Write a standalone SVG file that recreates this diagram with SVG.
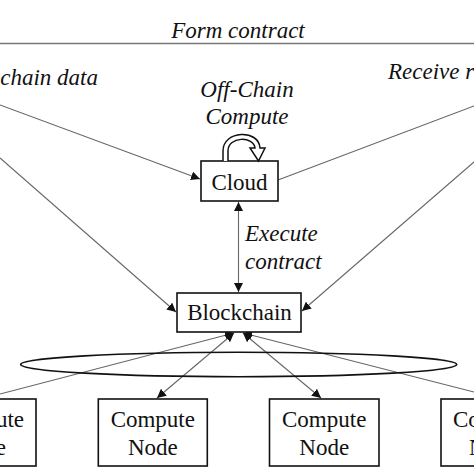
<svg xmlns="http://www.w3.org/2000/svg" width="474" height="474" viewBox="0 0 474 474" font-family="Liberation Serif, DejaVu Serif, serif">
<style>
.box{fill:#fff;stroke:#111;stroke-width:1.6}
.ln{stroke:#666;stroke-width:1.1;fill:none}
text{font-family:"Liberation Serif","DejaVu Serif",serif;font-size:23px;fill:#111}
.i{font-style:italic}
</style>
<defs>
<marker id="ah" viewBox="0 0 10 10" refX="10" refY="5" markerWidth="9" markerHeight="9" markerUnits="userSpaceOnUse" orient="auto-start-reverse">
<path d="M0,0 L10,5 L0,10 z" fill="#111"/>
</marker>
</defs>
<rect width="474" height="474" fill="#fff"/>
<g id="labels">
<text class="i" x="238" y="38" text-anchor="middle">Form contract</text>
<line x1="0" y1="43.5" x2="474" y2="43.5" stroke="#777" stroke-width="1.3"/>
<text class="i" x="98" y="85" text-anchor="end">chain data</text>
<text class="i" x="388" y="79">Receive r</text>
<text class="i" x="247" y="97" text-anchor="middle">Off-Chain</text>
<text class="i" x="247" y="124" text-anchor="middle">Compute</text>
<text class="i" x="245" y="241">Execute</text>
<text class="i" x="245" y="269">contract</text>
</g>
<g id="connectors">
<line class="ln" x1="0" y1="105" x2="200" y2="179" marker-end="url(#ah)"/>
<line class="ln" x1="278" y1="180" x2="474" y2="106"/>
<line class="ln" x1="0" y1="158" x2="176" y2="312" marker-end="url(#ah)"/>
<line class="ln" x1="474" y1="162" x2="302" y2="311" marker-end="url(#ah)"/>
<line class="ln" x1="238.5" y1="202" x2="238.5" y2="292" marker-start="url(#ah)" marker-end="url(#ah)"/>
<line class="ln" x1="0" y1="394" x2="234" y2="333" marker-end="url(#ah)"/>
<line class="ln" x1="474" y1="392" x2="243" y2="333" marker-end="url(#ah)"/>
<line class="ln" x1="234" y1="333" x2="157" y2="398" marker-start="url(#ah)" marker-end="url(#ah)"/>
<line class="ln" x1="243" y1="333" x2="321" y2="398" marker-start="url(#ah)" marker-end="url(#ah)"/>
<ellipse cx="238.7" cy="364.5" rx="218" ry="12.2" fill="none" stroke="#111" stroke-width="1.6"/>
</g>
<g id="cloud">
<rect class="box" x="201" y="161" width="77" height="40"/>
<text x="239.5" y="190" text-anchor="middle">Cloud</text>
<path d="M223,161 L223,151 C223,130 259,129 260,148 L265,148 L258.5,161 L250,148 L255,148 C254,136 228,136 228,151 L228,161" fill="#fff" stroke="#111" stroke-width="1.5"/>
</g>
<g id="blockchain">
<rect class="box" x="177" y="293" width="124" height="39"/>
<text x="239.5" y="320" text-anchor="middle">Blockchain</text>
</g>
<g id="node1">
<rect class="box" x="-73" y="399" width="109" height="67"/>
<text x="24" y="427" text-anchor="end">ute</text>
<text x="6" y="455" text-anchor="end">e</text>
</g>
<g id="node2">
<rect class="box" x="98.3" y="399" width="109" height="67"/>
<text x="152.8" y="427" text-anchor="middle">Compute</text>
<text x="152.8" y="455" text-anchor="middle">Node</text>
</g>
<g id="node3">
<rect class="box" x="269.5" y="399" width="109.5" height="67"/>
<text x="324.2" y="427" text-anchor="middle">Compute</text>
<text x="324.2" y="455" text-anchor="middle">Node</text>
</g>
<g id="node4">
<rect class="box" x="441" y="399" width="109" height="67"/>
<text x="453" y="427">Co</text>
<text x="469" y="455">N</text>
</g>
</svg>
